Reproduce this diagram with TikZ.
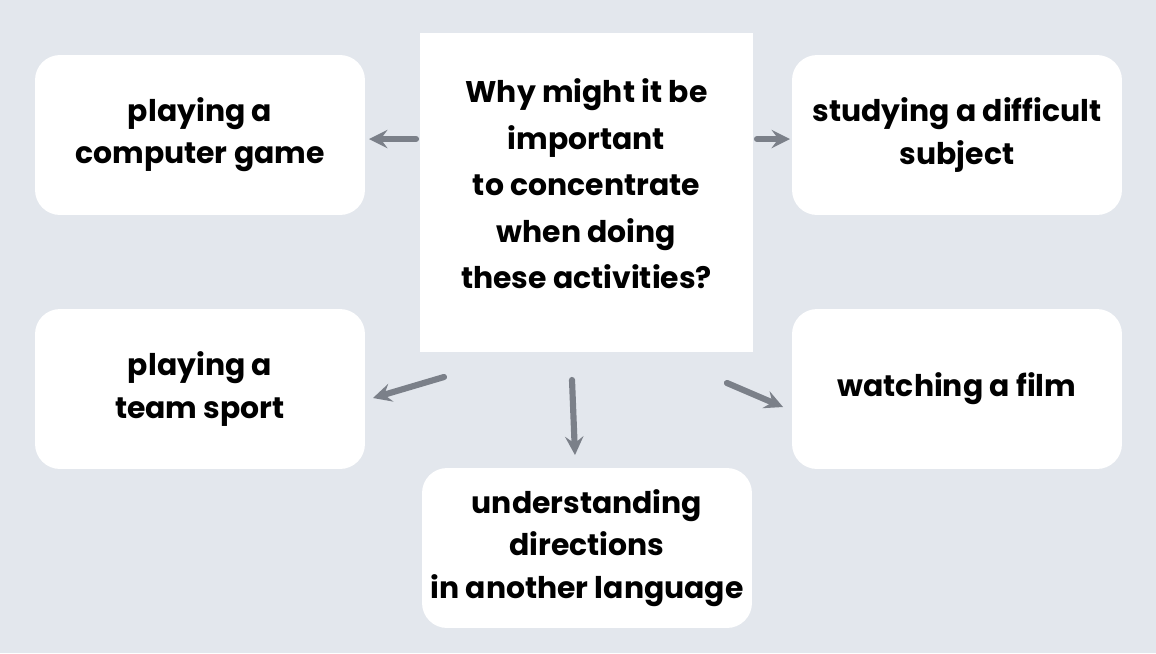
\documentclass[tikz,border=0pt]{standalone}
\usepackage{fontspec}
\setmainfont{Poppins}
\usetikzlibrary{positioning}
\definecolor{bgcol}{HTML}{E3E7ED}
\definecolor{arrcol}{HTML}{7B8089}
\tikzset{
  card/.style={fill=white, rounded corners=0.5cm, minimum width=6.6cm, minimum height=3.2cm,
    align=center, font=\fontsize{17}{24}\selectfont\bfseries},
  qbox/.style={fill=white, minimum width=6.66cm, minimum height=6.38cm,
    align=center, font=\fontsize{17}{26.5}\selectfont\bfseries},
  link/.style={draw=arrcol, line width=3.5pt, line cap=round, ->, >=stealth}
}
\begin{document}
\begin{tikzpicture}[x=0.02cm, y=-0.02cm]
  % background
  \fill[bgcol] (0,0) rectangle (1156,653);

  % question
  \fill[white] (420,33) rectangle (753,352);
  \node[qbox, fill=none] (q) at (586.5,184) {Why might it be\\important\\to concentrate\\when doing\\these activities?};

  % activities
  \node[card] (game)  at (200,135) {playing a\\computer game};
  \node[card] (study) at (957,135) {studying a difficult\\subject};
  \node[card] (sport) at (200,389) {playing a\\team sport};
  \node[card] (film)  at (957,389) {\raisebox{5pt}{watching a film}};
  \node[card] (lang)  at (587,548) {understanding\\directions\\in another language};

  % arrow ends
  \coordinate (a1) at (416,139);  \coordinate (b1) at (369,139);
  \coordinate (a2) at (757,139);  \coordinate (b2) at (790,139);
  \coordinate (a3) at (444,377);  \coordinate (b3) at (373,398);
  \coordinate (a4) at (572,380);  \coordinate (b4) at (575,455);
  \coordinate (a5) at (727,383);  \coordinate (b5) at (783,407);

  % links
  \foreach \s/\t in {a1/b1, a2/b2, a3/b3, a4/b4, a5/b5}
    \draw[link] (\s) -- (\t);
\end{tikzpicture}
\end{document}
